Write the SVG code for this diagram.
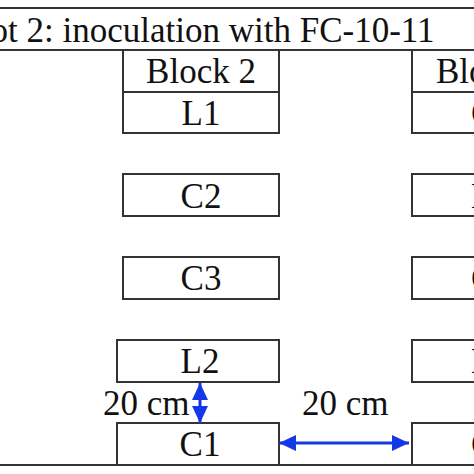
<svg xmlns="http://www.w3.org/2000/svg" width="474" height="474" viewBox="0 0 474 474">
<style>
  .ln { stroke: #333; stroke-width: 2; fill: none; }
  .box { stroke: #333; stroke-width: 2; fill: #fff; }
  .t { font-family: "Liberation Serif", "Times New Roman", serif; font-size: 35px; fill: #111; }
  .c { text-anchor: middle; }
  .arr { stroke: #1438e8; stroke-width: 3; fill: none; }
</style>
<defs>
  <marker id="ah" markerUnits="userSpaceOnUse" markerWidth="17" markerHeight="16" refX="17" refY="8" orient="auto-start-reverse" viewBox="0 0 17 16">
    <path d="M0,0 L17,8 L0,16 z" fill="#1438e8"/>
  </marker>
</defs>
<rect width="474" height="474" fill="#fff"/>
<g id="header">
  <line class="ln" x1="0" y1="8" x2="474" y2="8"/>
  <line class="ln" x1="0" y1="50" x2="474" y2="50"/>
  <text class="t" x="434.5" y="42" text-anchor="end">Plot 2: inoculation with FC-10-11</text>
</g>
<g id="block2-head">
  <rect class="box" x="123" y="50" width="156" height="42"/>
  <text class="t c" x="201" y="83">Block 2</text>
</g>
<g id="b2-L1">
  <rect class="box" x="123" y="92" width="156" height="41"/>
  <text class="t c" x="201" y="125">L1</text>
</g>
<g id="b2-C2">
  <rect class="box" x="123" y="174" width="156" height="42"/>
  <text class="t c" x="201" y="208">C2</text>
</g>
<g id="b2-C3">
  <rect class="box" x="123" y="257" width="156" height="42"/>
  <text class="t c" x="201" y="290">C3</text>
</g>
<g id="b2-L2">
  <rect class="box" x="117" y="340" width="162" height="42"/>
  <text class="t c" x="200" y="373">L2</text>
</g>
<g id="b2-C1">
  <rect class="box" x="117" y="423" width="162" height="42"/>
  <text class="t c" x="200" y="456">C1</text>
</g>
<g id="block3-head">
  <rect class="box" x="412" y="50" width="80" height="42"/>
  <text class="t" x="436" y="83">Block 3</text>
</g>
<g id="b3-r1">
  <rect class="box" x="412" y="92" width="80" height="41"/>
  <text class="t" x="471" y="125">C</text>
</g>
<g id="b3-r2">
  <rect class="box" x="412" y="174" width="80" height="42"/>
  <text class="t" x="471" y="208">L</text>
</g>
<g id="b3-r3">
  <rect class="box" x="412" y="257" width="80" height="42"/>
  <text class="t" x="471" y="290">C</text>
</g>
<g id="b3-r4">
  <rect class="box" x="412" y="340" width="80" height="42"/>
  <text class="t" x="471" y="373">L</text>
</g>
<g id="b3-r5">
  <rect class="box" x="412" y="423" width="80" height="42"/>
  <text class="t" x="471" y="456">C</text>
</g>
<g id="base">
  <line class="ln" x1="0" y1="465" x2="474" y2="465"/>
</g>
<g id="connectors">
  <line class="arr" x1="200" y1="383" x2="200" y2="423" marker-start="url(#ah)" marker-end="url(#ah)"/>
  <line class="arr" x1="279" y1="443" x2="409" y2="443" marker-start="url(#ah)" marker-end="url(#ah)"/>
  <text class="t" x="103" y="415">20 cm</text>
  <text class="t" x="302" y="415">20 cm</text>
</g>
</svg>
